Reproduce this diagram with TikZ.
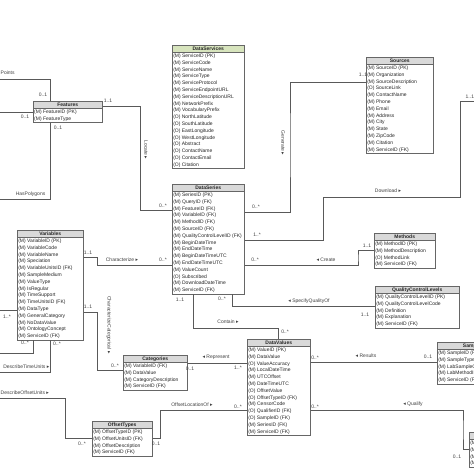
\documentclass[tikz,border=0pt]{standalone}
\usepackage{fontspec}
\setmainfont{Liberation Sans}
\newfontfamily\trifont{DejaVu Sans}
\usetikzlibrary{shapes.multipart,positioning,calc}
\definecolor{hdrgray}{HTML}{D9D9D9}
\definecolor{hdrgreen}{HTML}{D7E4BD}
\newcommand{\rtri}{{\trifont ▸}}
\newcommand{\ltri}{{\trifont ◂}}
\newcommand{\hd}[1]{\rule[-1.2pt]{0pt}{4.8pt}\textbf{#1}}
\tikzset{
  tbl/.style={rectangle split, rectangle split parts=2, draw=gray!80!black, line width=0.5pt,
    rectangle split part fill={#1,white}, rectangle split part align={center,left},
    align=left, anchor=north west, inner xsep=1pt, inner ysep=1pt,
    font=\fontsize{5}{6.8}\selectfont, text=black!85},
  tbl/.default=hdrgray,
  rel/.style={draw=gray!70!black, line width=0.8pt},
  lbl/.style={font=\fontsize{5}{6}\selectfont, text=black!75, inner sep=0.5pt},
}
\begin{document}
\begin{tikzpicture}[x=1pt,y=-1pt]
\useasboundingbox (0,0) rectangle (474,474);
\fill[white] (0,0) rectangle (474,474);
\clip (0,0) rectangle (474,474);

% tables
\node[tbl=hdrgreen, minimum width=72pt] (svc) at (172,45) {\hd{DataServices}\nodepart{two}(M) ServiceID (PK)\\(M) ServiceCode\\(M) ServiceName\\(M) ServiceType\\(M) ServiceProtocol\\(M) ServiceEndpointURL\\(M) ServiceDescriptionURL\\(M) NetworkPrefix\\(M) VocabularyPrefix\\(O) NorthLatitude\\(O) SouthLatitude\\(O) EastLongitude\\(O) WestLongitude\\(O) Abstract\\(O) ContactName\\(O) ContactEmail\\(O) Citation};
\node[tbl, minimum width=72pt] (ser) at (172,184) {\hd{DataSeries}\nodepart{two}(M) SeriesID (PK)\\(M) QueryID (FK)\\(M) FeatureID (FK)\\(M) VariableID (FK)\\(M) MethodID (FK)\\(M) SourceID (FK)\\(M) QualityControlLevelID (FK)\\(M) BeginDateTime\\(M) EndDateTime\\(M) BeginDateTimeUTC\\(M) EndDateTimeUTC\\(M) ValueCount\\(O) Subscribed\\(M) DownloadDateTime\\(M) ServiceID (FK)};
\node[tbl, minimum width=69pt] (feat) at (33,101) {\hd{Features}\nodepart{two}(M) FeatureID (PK)\\(M) FeatureType};
\node[tbl, minimum width=67pt] (src) at (366,57) {\hd{Sources}\nodepart{two}(M) SourceID (PK)\\(M) Organization\\(M) SourceDescription\\(O) SourceLink\\(M) ContactName\\(M) Phone\\(M) Email\\(M) Address\\(M) City\\(M) State\\(M) ZipCode\\(M) Citation\\(M) ServiceID (FK)};
\node[tbl, minimum width=66pt] (var) at (17,230) {\hd{Variables}\nodepart{two}(M) VariableID (PK)\\(M) VariableCode\\(M) VariableName\\(M) Speciation\\(M) VariableUnitsID (FK)\\(M) SampleMedium\\(M) ValueType\\(M) IsRegular\\(M) TimeSupport\\(M) TimeUnitsID (FK)\\(M) DataType\\(M) GeneralCategory\\(M) NoDataValue\\(M) OntologyConcept\\(M) ServiceID (FK)};
\node[tbl, minimum width=61pt] (mth) at (374,233) {\hd{Methods}\nodepart{two}(M) MethodID (PK)\\(M) MethodDescription\\(O) MethodLink\\(M) ServiceID (FK)};
\node[tbl, minimum width=84pt] (qcl) at (375,286) {\hd{QualityControlLevels}\nodepart{two}(M) QualityControlLevelID (PK)\\(M) QualityControlLevelCode\\(M) Definition\\(M) Explanation\\(M) ServiceID (FK)};
\node[tbl, minimum width=64pt] (cat) at (123,355) {\hd{Categories}\nodepart{two}(M) VariableID (FK)\\(M) DataValue\\(M) CategoryDescription\\(M) ServiceID (FK)};
\node[tbl, minimum width=63pt] (dv) at (247,339) {\hd{DataValues}\nodepart{two}(M) ValueID (PK)\\(M) DataValue\\(O) ValueAccuracy\\(M) LocalDateTime\\(M) UTCOffset\\(M) DateTimeUTC\\(O) OffsetValue\\(O) OffsetTypeID (FK)\\(M) CensorCode\\(O) QualifierID (FK)\\(O) SampleID (FK)\\(M) SeriesID (FK)\\(M) ServiceID (FK)};
\node[tbl, minimum width=60pt] (off) at (92,421) {\hd{OffsetTypes}\nodepart{two}(M) OffsetTypeID (PK)\\(M) OffsetUnitsID (FK)\\(M) OffsetDescription\\(M) ServiceID (FK)};
\node[tbl, minimum width=72pt] (smp) at (437,342) {\hd{Samples}\nodepart{two}(M) SampleID (PK)\\(M) SampleType\\(M) LabSampleCode\\(M) LabMethodID (FK)\\(M) ServiceID (FK)};
\node[tbl, minimum width=80pt] (qul) at (469,432) {\hd{Qualifiers}\nodepart{two}(M) QualifierID (PK)\\(M) QualifierCode\\(M) QualifierDescription\\(M) ServiceID (FK)};

% free ends
\coordinate (pts) at (-5,79);
\coordinate (fin) at (-5,112);
\coordinate (poly) at (-5,199);
\coordinate (gen) at (290,143);
\coordinate (dlA) at (323,197);
\coordinate (dlB) at (460,101);
\coordinate (qry) at (480,101);
\coordinate (crt) at (358,258);
\coordinate (ofu) at (-5,398);
\coordinate (qfy) at (463,430);
\coordinate (vin) at (-5,310);
\coordinate (vu1) at (-5,353);
\coordinate (vu2) at (-5,372);
\coordinate (rep) at ([yshift=-8pt]cat.north east);
\coordinate (res) at ([yshift=-23pt]dv.north east);

% connectors
\draw[rel] (pts) -| ([xshift=17pt]feat.north west);
\draw[rel] (fin) -- (fin -| feat.west);
\draw[rel] ([xshift=17pt]feat.south west) |- (poly);
\draw[rel] ([yshift=-5pt]feat.north east) -- ++(38,0) |- ([yshift=-26pt]ser.north west);
\draw[rel] ([yshift=-28pt]ser.north east) -| (gen) |- ([yshift=-25pt]src.north west);
\draw[rel] ([yshift=-56pt]ser.north east) -| (dlA) -| (dlB) -- (qry);
\draw[rel] ([yshift=-81pt]ser.north east) -| (crt) |- ([yshift=-17pt]mth.north west);
\draw[rel] ([xshift=60pt]ser.south west) |- ([yshift=-20pt]qcl.north west);
\draw[rel] ([xshift=21pt]ser.south west) -- ++(0,34) -| ([xshift=31pt]dv.north west);
\draw[rel] ([yshift=-27pt]var.north east) -- ++(14,0) |- ([yshift=-81pt]ser.north west);
\draw[rel] ([yshift=-82pt]var.north east) -- ++(14,0) |- ([yshift=-15pt]cat.north west);
\draw[rel] (rep) -- (rep -| dv.west);
\draw[rel] ([yshift=-17pt]off.north east) -- ++(8,0) |- ([yshift=-71pt]dv.north west);
\draw[rel] ([yshift=-17pt]off.north west) -- ++(-27,0) |- (ofu);
\draw[rel] (res) -- (res -| smp.west);
\draw[rel] ([yshift=-71pt]dv.north east) -| (qfy) |- ([yshift=-17pt]qul.north west);
\draw[rel] (vin) -- (vin -| var.west);
\draw[rel] ([xshift=16pt]var.south west) |- (vu1);
\draw[rel] ([xshift=33pt]var.south west) |- (vu2);

% labels
\node[lbl, anchor=west] (lpts) at (0,73) {Points};
\node[lbl, anchor=east] (lpoly) at (46,194) {HasPolygons};
\node[lbl] (m1) at (43,95) {0..1};
\node[lbl] (m2) at (25,117) {0..1};
\node[lbl] (m3) at (58,128) {0..1};
\node[lbl] (m4) at (108,101) {1..1};
\node[lbl, rotate=-90] (lloc) at (146,150) {Locate \rtri};
\node[lbl] (m5) at (163,206) {0..*};
\node[lbl] (m6) at (256,207) {0..*};
\node[lbl, rotate=-90] (lgen) at (283,143) {Generate \rtri};
\node[lbl] (m7) at (363,75) {1..1};
\node[lbl] (m8) at (257,235) {1..*};
\node[lbl] (ldl) at (388,191) {Download \rtri};
\node[lbl, anchor=west] (m9) at (465,97) {1..1};
\node[lbl] (m10) at (255,260) {0..*};
\node[lbl] (lcrt) at (326,260) {\ltri\ Create};
\node[lbl] (m11) at (367,246) {1..1};
\node[lbl] (m12) at (222,299) {0..*};
\node[lbl] (lsq) at (309,301) {\ltri\ SpecifyQualityOf};
\node[lbl] (m13) at (365,315) {1..1};
\node[lbl] (m14) at (180,300) {1..1};
\node[lbl] (lcnt) at (228,322) {Contain \rtri};
\node[lbl] (m15) at (285,332) {0..*};
\node[lbl] (m16) at (88,253) {1..1};
\node[lbl] (lchr) at (122,260) {Characterize \rtri};
\node[lbl] (m17) at (163,260) {0..*};
\node[lbl] (m18) at (88,307) {1..1};
\node[lbl, rotate=-90] (lcc) at (109,325) {CharacterizeCategorical \rtri};
\node[lbl] (m19) at (115,366) {0..*};
\node[lbl] (lrep) at (216,357) {\ltri\ Represent};
\node[lbl] (m20) at (190,369) {0..1};
\node[lbl] (m21) at (238,368) {1..*};
\node[lbl] (m22) at (156,444) {0..1};
\node[lbl] (lolo) at (192,405) {OffsetLocationOf \rtri};
\node[lbl] (m23) at (238,407) {0..*};
\node[lbl, anchor=west] (ldou) at (0,393) {DescribeOffsetUnits \rtri};
\node[lbl] (m24) at (82,444) {0..*};
\node[lbl] (m25) at (315,358) {0..*};
\node[lbl] (lres) at (366,356) {\ltri\ Results};
\node[lbl] (m26) at (428,357) {0..1};
\node[lbl] (m27) at (315,407) {0..*};
\node[lbl] (lqfy) at (413,404) {\ltri\ Qualify};
\node[lbl] (m28) at (457,457) {0..1};
\node[lbl] (m29) at (7,317) {1..*};
\node[lbl] (m30) at (25,343) {0..*};
\node[lbl] (m31) at (57,344) {0..*};
\node[lbl, anchor=east] (ldtu) at (50,367) {DescribeTimeUnits \rtri};
\end{tikzpicture}
\end{document}
